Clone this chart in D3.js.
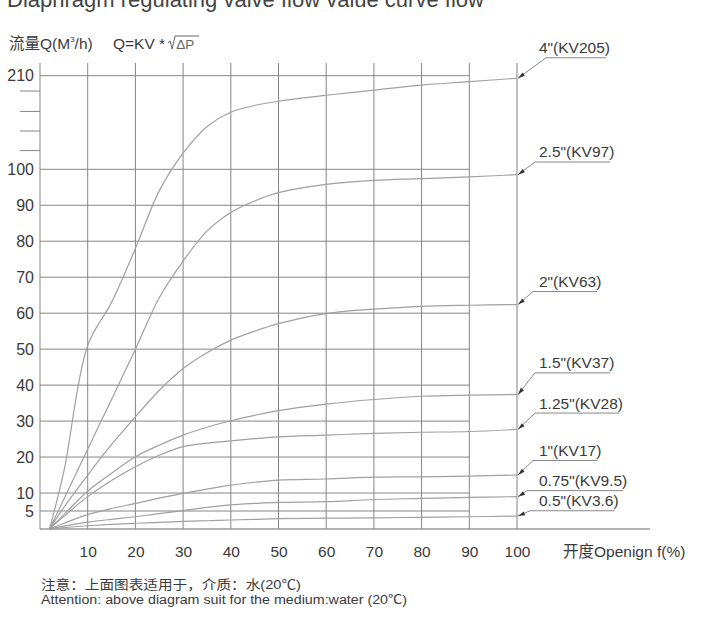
<!DOCTYPE html>
<html><head><meta charset="utf-8">
<script src="https://cdn.jsdelivr.net/npm/d3@7"></script>
<style>
body{margin:0;background:#fff}
text{font-family:"Liberation Sans",Arial,"Noto Sans CJK SC",sans-serif;fill:#3a3a3a}
</style>
</head><body>
<svg id="chart" width="706" height="630"></svg>
<script>
// ---------- data ----------
const opening = [2, 5, 10, 15, 20, 25, 30, 35, 40, 45, 50, 60, 70, 80, 90, 100];
const seriesNames = ['4"(KV205)', '2.5"(KV97)', '2"(KV63)', '1.5"(KV37)', '1.25"(KV28)', '1"(KV17)', '0.75"(KV9.5)', '0.5"(KV3.6)'];
const flowKV205 = [0, 16, 51, 63, 78, 94, 119, 150, 167, 175, 180, 187, 193, 199, 203, 207];
const flowKV97  = [0, 8.3, 22.2, 36, 50, 64.3, 74.5, 82.8, 88, 91.2, 93.5, 95.8, 96.9, 97.4, 97.9, 98.5];
const flowKV63  = [0, 6, 15, 23.5, 31.2, 38.5, 44.6, 49, 52.5, 55, 57.1, 59.9, 61.1, 61.9, 62.2, 62.4];
const flowKV37  = [0, 4, 10.5, 15.5, 20.1, 23.3, 26.1, 28.3, 30.1, 31.6, 32.9, 34.7, 36, 36.9, 37.2, 37.4];
const flowKV28  = [0, 3.5, 9, 13.5, 17.3, 20.5, 22.9, 23.9, 24.5, 25.1, 25.6, 26.1, 26.6, 26.9, 27.1, 27.7];
const flowKV17  = [0, 1.6, 4, 5.7, 7.1, 8.6, 9.9, 11.1, 12.2, 13, 13.6, 13.9, 14.4, 14.5, 14.7, 15];
const flowKV95  = [0, 0.8, 1.9, 2.7, 3.4, 4.3, 5.1, 6, 6.7, 7.1, 7.4, 7.6, 8.2, 8.5, 8.8, 9.0];
const flowKV36  = [0, 0.4, 0.9, 1.3, 1.6, 1.85, 2.1, 2.3, 2.5, 2.7, 2.9, 3.0, 3.1, 3.25, 3.4, 3.6];
const seriesValues = [flowKV205, flowKV97, flowKV63, flowKV37, flowKV28, flowKV17, flowKV95, flowKV36];
const yTickValues = [5, 10, 20, 30, 40, 50, 60, 70, 80, 90, 100, 210];
const yMinorTicks = [122, 145, 168, 192];
const xTickValues = [10, 20, 30, 40, 50, 60, 70, 80, 90, 100];
const yDomain = [0, 100, 210];

// ---------- layout (label leaders) ----------
const labelDy = [-20.5, -12.7, -13, -21.6, -16.3, -14.5, -6, -5.3];
const labelDx = [29, 18, 16, 18, 18, 16, 10, 13];

const svg = d3.select('#chart');
const x = d3.scaleLinear().domain([0, 100]).range([40, 517]);
const y = d3.scaleLinear().domain(yDomain).range([529, 169.3, 75.7]);

const gridColor = '#858585';
const topY = 63;

// title (cut off at top)
svg.append('text').attr('x', 7).attr('y', 7).style('font-size', '22px').style('fill', '#444')
  .text('Diaphragm regulating valve flow value curve flow');

// horizontal grid
svg.append('g').selectAll('line').data(yTickValues).join('line')
  .attr('x1', x(0)).attr('x2', x(90))
  .attr('y1', d => y(d)).attr('y2', d => y(d))
  .attr('stroke', gridColor).attr('stroke-width', 1);

// minor ticks left
svg.append('g').selectAll('line').data(yMinorTicks).join('line')
  .attr('x1', 20).attr('x2', x(0))
  .attr('y1', d => y(d)).attr('y2', d => y(d))
  .attr('stroke', gridColor).attr('stroke-width', 1);

// vertical grid (incl. axis at 0 and line at 100)
svg.append('g').selectAll('line').data([0].concat(xTickValues)).join('line')
  .attr('x1', d => x(d)).attr('x2', d => x(d))
  .attr('y1', topY).attr('y2', y(0))
  .attr('stroke', gridColor).attr('stroke-width', 1);

// bottom axis line
svg.append('line').attr('x1', x(0)).attr('x2', 650).attr('y1', y(0)).attr('y2', y(0))
  .attr('stroke', '#999').attr('stroke-width', 1.6);

// axes labels via d3 axes
const xAxis = svg.append('g').attr('transform', `translate(0,${y(0)})`)
  .call(d3.axisBottom(x).tickValues(xTickValues).tickSize(0).tickPadding(17));
xAxis.select('.domain').remove();
xAxis.selectAll('text').style('font-size', '15.5px').style('font-family', '"Liberation Sans",Arial,sans-serif').attr('fill', '#3a3a3a');

const yAxis = svg.append('g').attr('transform', `translate(${x(0)},0)`)
  .call(d3.axisLeft(y).tickValues(yTickValues).tickSize(0).tickPadding(6));
yAxis.select('.domain').remove();
yAxis.selectAll('text').style('font-size', '16px').style('font-family', '"Liberation Sans",Arial,sans-serif').attr('fill', '#3a3a3a');

// x axis title
svg.append('text').attr('x', 563).attr('y', 557).style('font-size', '15.5px').text('开度Openign f(%)');

// y axis title
const yt = svg.append('text').attr('x', 9).attr('y', 49).style('font-size', '15.5px');
yt.append('tspan').text('流量Q(M');
yt.append('tspan').text('3').style('font-size', '8px').attr('dy', -7);
yt.append('tspan').text('/h)').attr('dy', 7);
const yt2 = svg.append('text').attr('x', 113).attr('y', 49).style('font-size', '15.5px').text('Q=KV *');
const w2 = yt2.node().getComputedTextLength();
const rx = 113 + w2 + 3;
svg.append('path').attr('d', `M${rx},${43} L${rx+2},${41} L${rx+4},${49} L${rx+7},${36} L${rx+31},${36}`)
  .attr('fill', 'none').attr('stroke', '#555').attr('stroke-width', 0.9);
svg.append('text').attr('x', rx + 8).attr('y', 49).style('font-size', '13.5px').style('fill', '#666').text('ΔP');

// curves
const line = d3.line().x(d => x(d[0])).y(d => y(d[1])).curve(d3.curveCatmullRom.alpha(0.5));
svg.append('g').selectAll('path').data(seriesValues).join('path')
  .attr('d', vals => line(opening.map((o, i) => [o, vals[i]])))
  .attr('fill', 'none').attr('stroke', '#a0a0a0').attr('stroke-width', 1.2);

// labels with leaders
const labelX = 539;
seriesValues.forEach((vals, i) => {
  const ex = x(100), ey = y(vals[vals.length - 1]);
  const uy = ey + labelDy[i];
  const t = svg.append('text').attr('x', labelX).attr('y', uy - 4.5).style('font-size', '15.5px').text(seriesNames[i]);
  const tw = t.node().getComputedTextLength();
  svg.append('path').attr('d', `M${ex + 1},${ey} L${ex + labelDx[i]},${uy} L${labelX + tw - 4},${uy}`)
    .attr('fill', 'none').attr('stroke', '#888').attr('stroke-width', 1);
  // arrow head
  const ang = Math.atan2(uy - ey, labelDx[i]);
  const ax = ex + 1, ay = ey;
  const p1 = [ax + 7 * Math.cos(ang) - 2 * Math.sin(ang), ay + 7 * Math.sin(ang) + 2 * Math.cos(ang)];
  const p2 = [ax + 7 * Math.cos(ang) + 2 * Math.sin(ang), ay + 7 * Math.sin(ang) - 2 * Math.cos(ang)];
  svg.append('path').attr('d', `M${ax},${ay} L${p1[0]},${p1[1]} L${p2[0]},${p2[1]} Z`).attr('fill', '#333');
});

// footnote
svg.append('text').attr('x', 41).attr('y', 589).style('font-size', '13px')
  .attr('textLength', 260).attr('lengthAdjust', 'spacingAndGlyphs')
  .text('注意：上面图表适用于，介质：水(20℃)');
svg.append('text').attr('x', 41).attr('y', 604).style('font-size', '12.5px')
  .attr('textLength', 366).attr('lengthAdjust', 'spacingAndGlyphs')
  .text('Attention: above diagram suit for the medium:water (20℃)');
</script>
</body></html>
